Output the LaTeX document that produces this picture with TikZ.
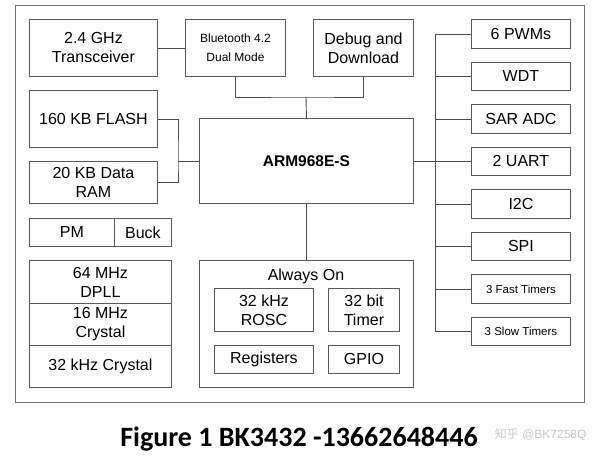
\documentclass[tikz,border=0pt]{standalone}
\usepackage{fontspec}
\setmainfont{Liberation Sans}
\newfontfamily\capfont{Carlito}
\newfontfamily\cjk{Noto Sans CJK SC}
\tikzset{
  blk/.style = {draw=black!65, line width=0.9pt, anchor=north west,
                inner sep=0pt, align=center, font=\fontsize{16}{19}\selectfont},
  wire/.style = {draw=black!70, line width=0.9pt}
}
\newcommand{\blkat}[6]{% name, x1, y1, x2, y2, text
  \node[blk, minimum width=#4pt-#2pt, minimum height=#5pt-#3pt] (#1) at (#2,#3) {#6};}

\begin{document}
\begin{tikzpicture}[x=1pt, y=-1pt]
	\useasboundingbox (0,0) rectangle (600,461);
	\draw[black!55, line width=0.9pt] (15,5) rectangle (584,402);

	% Left column
	\blkat{trx}{29}{19}{157}{76}{2.4 GHz\\Transceiver}
	\blkat{flash}{29}{90}{157}{147}{160 KB FLASH}
	\blkat{ram}{29}{161}{157}{203}{20 KB Data\\RAM}
	\blkat{pm}{29}{218}{114}{246}{PM}
	\blkat{buck}{114}{218}{171}{246}{Buck}
	\blkat{dpll}{29}{260}{171}{303}{64 MHz\\DPLL}
	\blkat{xtal}{29}{303}{171}{345}{16 MHz\\Crystal}
	\blkat{rtc}{29}{345}{171}{387}{32 kHz Crystal}

	% Middle column
	\blkat{bt}{185}{19}{285}{76}{\fontsize{12}{14}\selectfont Bluetooth 4.2\\\fontsize{12}{14}\selectfont Dual Mode}
	\blkat{dbg}{313}{19}{413}{76}{Debug and\\Download}
	\blkat{cpu}{199}{118}{413}{203}{\fontsize{15.5}{18}\selectfont\bfseries ARM968E-S}
	\blkat{aon}{199}{260}{413}{387}{}
	\node[font=\fontsize{16}{19}\selectfont] (aonlbl) at (306,276) {Always On};
	\blkat{rosc}{214}{288}{313}{331}{32 kHz\\ROSC}
	\blkat{tmr}{328}{288}{399}{331}{32 bit\\Timer}
	\blkat{regs}{214}{345}{313}{373}{Registers}
	\blkat{gpio}{328}{345}{399}{373}{GPIO}

	% Right column
	\blkat{pwm}{471}{19}{570}{48}{6 PWMs}
	\blkat{wdt}{471}{62}{570}{90}{WDT}
	\blkat{adc}{471}{104}{570}{133}{SAR ADC}
	\blkat{uart}{471}{147}{570}{175}{2 UART}
	\blkat{iic}{471}{189}{570}{218}{I2C}
	\blkat{spi}{471}{232}{570}{260}{SPI}
	\blkat{ftmr}{471}{274}{570}{303}{\fontsize{11.5}{13}\selectfont 3 Fast Timers}
	\blkat{stmr}{471}{317}{570}{345}{\fontsize{11.5}{13}\selectfont 3 Slow Timers}

	% Connectors
	\coordinate (top) at (306,97);
	\coordinate (mem) at (178,161);
	\coordinate (bus) at (435,161);
	\draw[wire] (trx.east) -- (trx.east -| bt.west);
	\draw[wire] (bt.south) |- (top) -| (dbg.south);
	\draw[wire] (top) -- (cpu.north);
	\draw[wire] (cpu.south) -- (aon.north);
	\draw[wire] (flash.east) -| (mem) |- (ram.east);
	\draw[wire] (mem) -- (mem -| cpu.west);
	\draw[wire] (cpu.east |- bus) -- (bus);
	\draw[wire] (pwm.west) -| (stmr.west -| bus) -- (stmr.west);
	\foreach \b in {wdt, adc, uart, iic, spi, ftmr}
		\draw[wire] (\b.west -| bus) -- (\b.west);

	% Caption
	\node[font=\capfont\bfseries\fontsize{28}{32}\selectfont] (cap) at (299,439) {Figure 1 BK3432 -13662648446};
	\node[anchor=east, text=black!22, font=\fontsize{12}{14}\selectfont] (wm) at (590,435) {{\cjk 知乎} @BK7258Q};
\end{tikzpicture}
\end{document}
